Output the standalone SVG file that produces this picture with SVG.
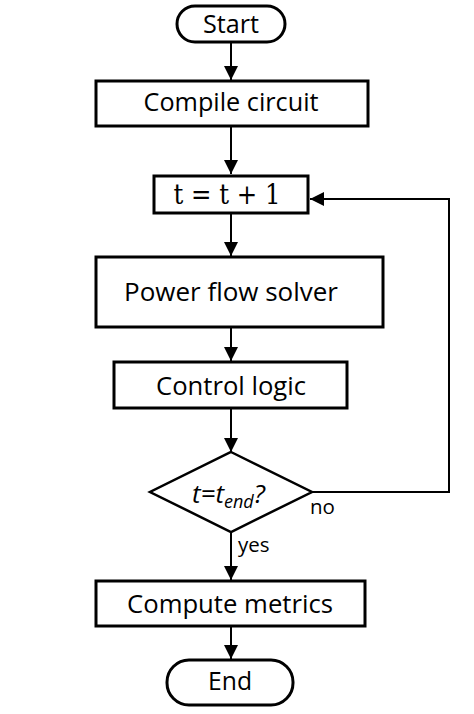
<svg xmlns="http://www.w3.org/2000/svg" width="474" height="714" viewBox="0 0 474 714">
<defs>
<style>
.box{fill:#fff;stroke:#000;stroke-width:3}
.lbl{font-family:"Open Sans","Noto Sans",sans-serif;font-size:25px;fill:#000;text-anchor:middle}
.small{font-family:"Open Sans","Noto Sans",sans-serif;font-size:20.5px;fill:#000}
.conn{fill:none;stroke:#000;stroke-width:2}
</style>
<marker id="ah" markerUnits="userSpaceOnUse" markerWidth="14" markerHeight="14" viewBox="0 0 14 14" refX="14" refY="7" orient="auto">
<path d="M0,0 L14,7 L0,14 Z" fill="#000"/>
</marker>
</defs>
<rect width="474" height="714" fill="#fff"/>
<g id="connectors">
<line class="conn" x1="231" y1="43" x2="231" y2="80" marker-end="url(#ah)"/>
<line class="conn" x1="231" y1="126" x2="231" y2="174" marker-end="url(#ah)"/>
<line class="conn" x1="231" y1="214" x2="231" y2="256" marker-end="url(#ah)"/>
<line class="conn" x1="231" y1="328" x2="231" y2="361" marker-end="url(#ah)"/>
<line class="conn" x1="231" y1="409" x2="231" y2="452" marker-end="url(#ah)"/>
<line class="conn" x1="231" y1="532" x2="231" y2="580" marker-end="url(#ah)"/>
<line class="conn" x1="231" y1="627" x2="231" y2="659" marker-end="url(#ah)"/>
<polyline class="conn" points="312,492 449,492 449,199 310,199" marker-end="url(#ah)"/>
<text class="small" x="310" y="514">no</text>
<text class="small" x="238" y="552">yes</text>
</g>
<g id="start">
<rect class="box" x="177" y="6" width="108" height="36" rx="18"/>
<text class="lbl" x="231" y="33" textLength="56" lengthAdjust="spacingAndGlyphs">Start</text>
</g>
<g id="compile">
<rect class="box" x="96" y="81" width="272" height="45"/>
<text class="lbl" x="231" y="111" textLength="175" lengthAdjust="spacingAndGlyphs">Compile circuit</text>
</g>
<g id="increment">
<rect class="box" x="154" y="176" width="154" height="37" stroke-width="4"/>
<text x="227" y="204" font-family="'DejaVu Serif','Liberation Serif',serif" font-size="27" text-anchor="middle" textLength="107" lengthAdjust="spacingAndGlyphs">t = t + 1</text>
</g>
<g id="powerflow">
<rect class="box" x="96" y="257" width="287" height="70"/>
<text class="lbl" x="231" y="301" textLength="214" lengthAdjust="spacingAndGlyphs">Power flow solver</text>
</g>
<g id="control">
<rect class="box" x="114" y="362" width="233" height="46"/>
<text class="lbl" x="231" y="395" textLength="150" lengthAdjust="spacingAndGlyphs">Control logic</text>
</g>
<g id="decision">
<polygon points="231,452 312,492 231,532 150,492" fill="#fff" stroke="#000" stroke-width="2.5"/>
<text x="192" y="503" font-family="'Open Sans','Noto Sans',sans-serif" font-style="italic" font-size="26">t=t<tspan font-size="18" dy="5">end</tspan><tspan dy="-5">?</tspan></text>
</g>
<g id="metrics">
<rect class="box" x="96" y="581" width="269" height="45"/>
<text class="lbl" x="230" y="613" textLength="206" lengthAdjust="spacingAndGlyphs">Compute metrics</text>
</g>
<g id="end">
<rect class="box" x="167" y="660" width="126" height="45" rx="22"/>
<text class="lbl" x="230" y="690" textLength="44" lengthAdjust="spacingAndGlyphs">End</text>
</g>
</svg>
